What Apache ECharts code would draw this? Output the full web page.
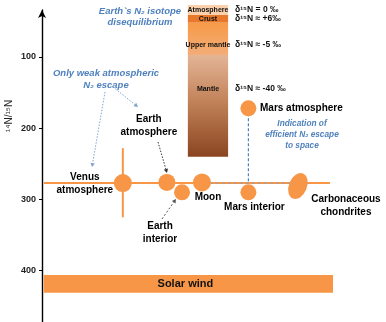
<!DOCTYPE html>
<html><head><meta charset="utf-8">
<script src="https://cdn.jsdelivr.net/npm/echarts@6/dist/echarts.min.js"></script>
<style>html,body{margin:0;padding:0;background:#fff}#c{width:386px;height:322px}</style>
</head><body><div id="c"></div>
<script>
// ---- data ----
const tickValues = [100, 200, 300, 400];
const sampleNames = ['Venus atmosphere', 'Earth atmosphere', 'Earth interior', 'Moon', 'Mars interior', 'Carbonaceous chondrites', 'Mars atmosphere'];
const samplePos   = [23.5, 36.3, 40.7, 46.5, 60.0, 74.4, 60.0];   // schematic horizontal position
const sampleRatio = [277, 276, 290, 276, 290, 281, 172];           // 14N/15N
const venusRange = [228, 325];
const refLineRatio = 277;
const refLineSpan = [0.5, 83.7];
const marsLinkSpan = [48.8, 72.7];
const solarWindRange = [406, 431];
const solarWindSpan = [0.5, 84.6];
const layerNames = ['Atmosphere', 'Crust', 'Upper mantle', 'Mantle'];
const layerTop = [27, 41, 52, 97];
const layerBottom = [41, 52, 97, 240];
const layerLabelAt = [34, 46.5, 83, 145];
const layerDelta = ['δ¹⁵N = 0 ‰', 'δ¹⁵N ≈ +6‰', 'δ¹⁵N ≈ -5 ‰', 'δ¹⁵N ≈ -40 ‰'];
const layerSpan = [42.4, 54.1];

// ---- styles ----
const ORANGE = '#f79646';
const BLUE = '#4f81bd';
const FONT = '"Liberation Sans", Arial, sans-serif';
const labelStyle = {
  'Venus atmosphere': {text: 'Venus\natmosphere', off: [-38, 1], size: 18},
  'Earth atmosphere': {text: 'Earth\natmosphere', off: [-18, -57], size: 17},
  'Earth interior': {text: 'Earth\ninterior', off: [-22, 40], size: 16},
  'Moon': {text: 'Moon', off: [6, 15], size: 18},
  'Mars interior': {text: 'Mars interior', off: [6, 15], size: 16},
  'Carbonaceous chondrites': {text: 'Carbonaceous\nchondrites', off: [48, 20], size: [18, 27], rot: -22},
  'Mars atmosphere': {text: 'Mars atmosphere', off: [53, 0], size: 16}
};
const layerFill = [
  '#fbd0ac',
  '#e8792c',
  {type: 'linear', x: 0, y: 0, x2: 0, y2: 1, colorStops: [{offset: 0, color: '#f79a48'}, {offset: 1, color: '#f3ad78'}]},
  {type: 'linear', x: 0, y: 0, x2: 0, y2: 1, colorStops: [{offset: 0, color: '#e4b596'}, {offset: 0.45, color: '#c2835a'}, {offset: 1, color: '#8a4520'}]}
];

const chart = echarts.init(document.getElementById('c'));

function arrow(x1, y1, x2, y2, color, dash) {
  const a = Math.atan2(y2 - y1, x2 - x1), L = 4, W = 2.2;
  const bx = x2 - L * Math.cos(a), by = y2 - L * Math.sin(a);
  const px = -Math.sin(a) * W, py = Math.cos(a) * W;
  return [
    {type: 'line', shape: {x1, y1, x2: bx, y2: by}, style: {stroke: color, lineWidth: 1, lineDash: dash}, z: 10},
    {type: 'polygon', shape: {points: [[x2, y2], [bx + px, by + py], [bx - px, by - py]]}, style: {fill: color}, z: 10}
  ];
}
const blueText = (x, y, text, size, lh) => ({
  type: 'text', x, y, z: 10,
  style: {text, fill: BLUE, font: `italic bold ${size}px ${FONT}`, align: 'center', verticalAlign: 'middle', lineHeight: lh}
});

const graphics = [
  {type: 'text', x: 9, y: 116, rotation: Math.PI / 2,
   style: {text: '¹⁴N/¹⁵N', fill: '#222', font: `10px ${FONT}`, align: 'center', verticalAlign: 'middle'}},
  blueText(140, 16.5, 'Earth`s N₂ isotope\ndisequilibrium', 9.5, 11),
  blueText(106, 79, 'Only weak atmospheric\nN₂ escape', 9.5, 12),
  blueText(302, 134.5, 'Indication of\nefficient N₂ escape\nto space', 8.3, 11),
  ...arrow(105, 92, 92, 167, '#7fa3cf', [1.5, 1.5]),
  ...arrow(113, 87, 138, 107, '#7fa3cf', [1.5, 1.5]),
  ...arrow(158, 142, 167, 173, '#333', [1.5, 1.5]),
  ...arrow(162, 219, 176, 199, '#555', [2, 2])
];

chart.setOption({
  animation: false,
  grid: {left: 42, right: 0, top: 10, bottom: 0, outerBoundsMode: 'none'},
  xAxis: {type: 'value', min: 0, max: 100, show: false},
  yAxis: {
    type: 'value', inverse: true, min: 34, max: 472,
    splitLine: {show: false},
    axisLine: {show: true, symbol: ['none', 'arrow'], symbolSize: [6, 8], lineStyle: {color: '#000', width: 1.4}},
    axisTick: {show: true, length: 3, customValues: tickValues, lineStyle: {color: '#000'}},
    axisLabel: {customValues: tickValues, fontSize: 9, fontWeight: 'bold', color: '#222', margin: 6, fontFamily: FONT}
  },
  graphic: graphics,
  series: [
    {type: 'custom', clip: false, z: 1,
     data: [[solarWindSpan[0], solarWindSpan[1], solarWindRange[0], solarWindRange[1]]],
     renderItem: (p, api) => {
       const a = api.coord([api.value(0), api.value(2)]), b = api.coord([api.value(1), api.value(3)]);
       return {type: 'group', children: [
         {type: 'rect', shape: {x: a[0], y: a[1], width: b[0] - a[0], height: b[1] - a[1]}, style: {fill: ORANGE}},
         {type: 'text', x: (a[0] + b[0]) / 2 - 3, y: (a[1] + b[1]) / 2,
          style: {text: 'Solar wind', fill: '#111', font: `bold 11px ${FONT}`, align: 'center', verticalAlign: 'middle'}}
       ]};
     }},
    {type: 'custom', clip: false, z: 1,
     data: layerNames.map((n, i) => [layerTop[i], layerBottom[i], layerLabelAt[i], i]),
     renderItem: (p, api) => {
       const i = api.value(3);
       const a = api.coord([layerSpan[0], api.value(0)]), b = api.coord([layerSpan[1], api.value(1)]);
       const ly = api.coord([0, api.value(2)])[1];
       return {type: 'group', children: [
         {type: 'rect', shape: {x: a[0], y: a[1], width: b[0] - a[0], height: b[1] - a[1]}, style: {fill: layerFill[i]}},
         {type: 'text', x: (a[0] + b[0]) / 2, y: ly,
          style: {text: layerNames[i], fill: '#111', font: `bold 7px ${FONT}`, align: 'center', verticalAlign: 'middle'}},
         {type: 'text', x: b[0] + 7, y: ly,
          style: {text: layerDelta[i], fill: '#111', font: `bold 8.5px ${FONT}`, align: 'left', verticalAlign: 'middle'}}
       ]};
     }},
    {type: 'line', symbol: 'none', z: 2, silent: true,
     data: [[refLineSpan[0], refLineRatio], [refLineSpan[1], refLineRatio]],
     lineStyle: {color: ORANGE, width: 2}},
    {type: 'line', symbol: 'none', z: 3, silent: true,
     data: [[marsLinkSpan[0], refLineRatio], [marsLinkSpan[1], refLineRatio]],
     lineStyle: {color: '#8da2bb', width: 1, type: [3, 3]}},
    {type: 'line', symbol: 'none', z: 2, silent: true,
     data: [[samplePos[0], venusRange[0]], [samplePos[0], venusRange[1]]],
     lineStyle: {color: ORANGE, width: 2}},
    {type: 'line', symbol: 'none', z: 2, silent: true,
     data: [[samplePos[6], sampleRatio[6]], [samplePos[4], refLineRatio]],
     lineStyle: {color: BLUE, width: 1.2, type: [3, 2]}},
    {type: 'scatter', z: 5,
     data: sampleNames.map((n, i) => {
       const s = labelStyle[n];
       return {name: n, value: [samplePos[i], sampleRatio[i]], symbolSize: s.size, symbolRotate: s.rot || 0,
         label: {show: true, position: 'inside', offset: s.off, formatter: s.text, align: 'center',
                 fontSize: 10, fontWeight: 'bold', color: '#000', lineHeight: 13, fontFamily: FONT}};
     }),
     itemStyle: {color: ORANGE, opacity: 1}}
  ]
});
</script></body></html>
